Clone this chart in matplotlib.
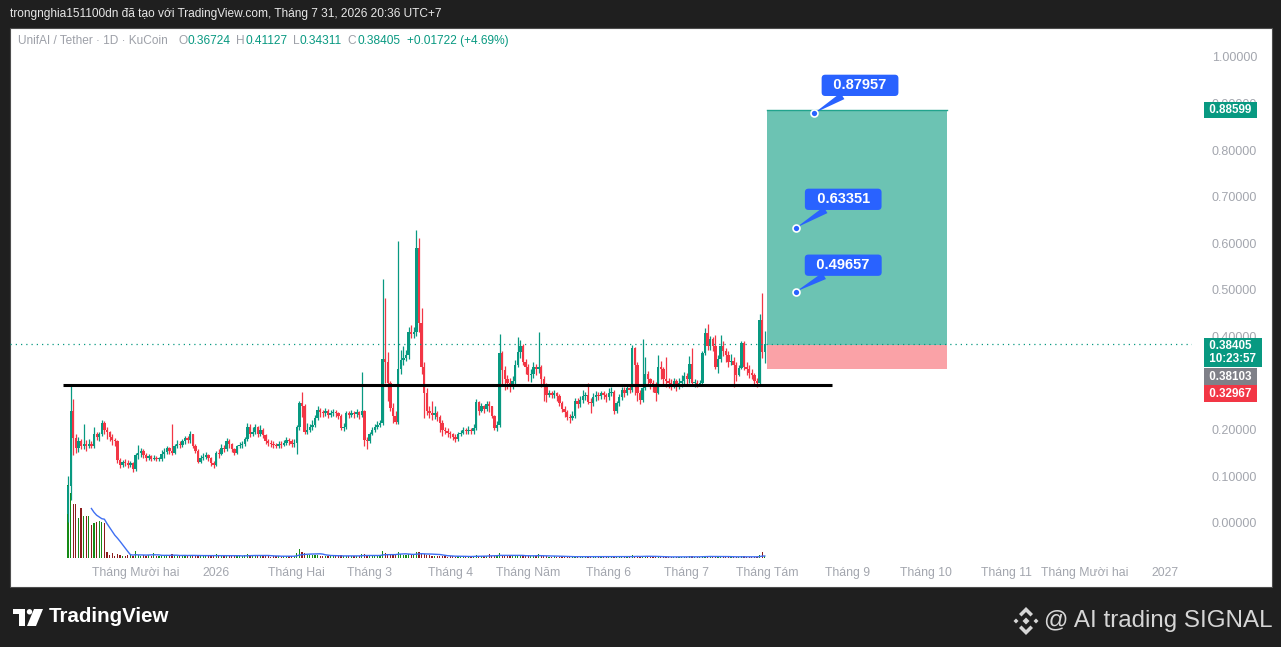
import numpy as np
import pandas as pd
import matplotlib
matplotlib.use('Agg')
import matplotlib.pyplot as plt
import matplotlib.dates as mdates
import matplotlib.transforms as mtransforms
from matplotlib.patches import Rectangle, Polygon, Circle

# UnifAI / Tether daily candles (KuCoin)
start_date = '2025-11-05'
first_open = 0.020
closes = [
    0.080, 0.240, 0.182, 0.160, 0.175, 0.165, 0.170, 0.165, 0.170, 0.165,
    0.190, 0.185, 0.190, 0.214, 0.200, 0.195, 0.185, 0.178, 0.175, 0.135,
    0.125, 0.130, 0.128, 0.125, 0.128, 0.115, 0.145, 0.150, 0.155, 0.145,
    0.140, 0.143, 0.138, 0.140, 0.137, 0.138, 0.148, 0.152, 0.160, 0.155,
    0.150, 0.165, 0.170, 0.168, 0.175, 0.182, 0.178, 0.190, 0.165, 0.155,
    0.130, 0.140, 0.142, 0.145, 0.140, 0.128, 0.125, 0.150, 0.148, 0.160,
    0.158, 0.175, 0.170, 0.158, 0.150, 0.165, 0.168, 0.170, 0.180, 0.206,
    0.190, 0.196, 0.205, 0.190, 0.200, 0.188, 0.175, 0.172, 0.170, 0.168,
    0.165, 0.170, 0.168, 0.172, 0.178, 0.175, 0.170, 0.172, 0.205, 0.257,
    0.250, 0.195, 0.200, 0.205, 0.210, 0.225, 0.242, 0.238, 0.235, 0.240,
    0.232, 0.236, 0.238, 0.235, 0.230, 0.204, 0.205, 0.235, 0.232, 0.236,
    0.233, 0.238, 0.232, 0.240, 0.178, 0.175, 0.190, 0.200, 0.205, 0.210,
    0.215, 0.352, 0.345, 0.300, 0.247, 0.230, 0.217, 0.330, 0.350, 0.355,
    0.360, 0.410, 0.405, 0.410, 0.590, 0.430, 0.335, 0.280, 0.240, 0.235,
    0.232, 0.235, 0.228, 0.215, 0.200, 0.198, 0.193, 0.190, 0.185, 0.180,
    0.190, 0.193, 0.200, 0.198, 0.200, 0.197, 0.203, 0.260, 0.240, 0.250,
    0.245, 0.255, 0.250, 0.230, 0.204, 0.210, 0.365, 0.328, 0.310, 0.300,
    0.295, 0.305, 0.340, 0.367, 0.380, 0.345, 0.335, 0.318, 0.320, 0.335,
    0.330, 0.335, 0.310, 0.295, 0.275, 0.280, 0.275, 0.278, 0.272, 0.257,
    0.245, 0.238, 0.228, 0.225, 0.230, 0.262, 0.255, 0.265, 0.272, 0.275,
    0.260, 0.258, 0.270, 0.275, 0.272, 0.278, 0.275, 0.270, 0.280, 0.282,
    0.240, 0.258, 0.270, 0.285, 0.278, 0.290, 0.285, 0.375, 0.340, 0.280,
    0.265, 0.290, 0.320, 0.310, 0.300, 0.295, 0.280, 0.335, 0.330, 0.310,
    0.305, 0.300, 0.297, 0.305, 0.295, 0.300, 0.305, 0.315, 0.310, 0.341,
    0.300, 0.300, 0.298, 0.300, 0.365, 0.408, 0.380, 0.395, 0.380, 0.335,
    0.352, 0.380, 0.370, 0.360, 0.345, 0.348, 0.340, 0.318, 0.333, 0.386,
    0.335, 0.330, 0.322, 0.318, 0.305, 0.300, 0.436, 0.36724, 0.38405,
]
highs = [
    0.100, 0.296, 0.266, 0.190, 0.185, 0.180, 0.212, 0.178, 0.180, 0.176,
    0.205, 0.196, 0.196, 0.222, 0.218, 0.205, 0.198, 0.190, 0.182, 0.178,
    0.140, 0.135, 0.138, 0.136, 0.132, 0.130, 0.150, 0.168, 0.160, 0.158,
    0.150, 0.148, 0.146, 0.145, 0.144, 0.142, 0.156, 0.160, 0.166, 0.164,
    0.212, 0.170, 0.178, 0.176, 0.180, 0.186, 0.186, 0.198, 0.192, 0.170,
    0.158, 0.145, 0.150, 0.152, 0.148, 0.142, 0.132, 0.155, 0.158, 0.170,
    0.168, 0.182, 0.180, 0.172, 0.160, 0.168, 0.174, 0.176, 0.184, 0.214,
    0.212, 0.206, 0.212, 0.208, 0.210, 0.204, 0.190, 0.180, 0.178, 0.176,
    0.172, 0.176, 0.176, 0.178, 0.185, 0.182, 0.180, 0.180, 0.210, 0.262,
    0.281, 0.255, 0.215, 0.212, 0.220, 0.232, 0.250, 0.246, 0.242, 0.246,
    0.244, 0.242, 0.244, 0.242, 0.238, 0.234, 0.214, 0.240, 0.240, 0.242,
    0.240, 0.244, 0.240, 0.324, 0.242, 0.185, 0.195, 0.206, 0.212, 0.218,
    0.222, 0.524, 0.483, 0.368, 0.305, 0.258, 0.240, 0.605, 0.372, 0.380,
    0.372, 0.420, 0.425, 0.420, 0.629, 0.611, 0.461, 0.345, 0.290, 0.250,
    0.262, 0.250, 0.240, 0.232, 0.220, 0.206, 0.204, 0.198, 0.194, 0.190,
    0.196, 0.200, 0.206, 0.204, 0.208, 0.204, 0.212, 0.266, 0.262, 0.258,
    0.254, 0.262, 0.262, 0.252, 0.232, 0.218, 0.405, 0.370, 0.336, 0.318,
    0.312, 0.316, 0.350, 0.400, 0.392, 0.384, 0.352, 0.342, 0.330, 0.345,
    0.342, 0.410, 0.338, 0.315, 0.300, 0.286, 0.284, 0.285, 0.282, 0.276,
    0.262, 0.250, 0.242, 0.234, 0.240, 0.268, 0.268, 0.272, 0.285, 0.282,
    0.300, 0.268, 0.278, 0.284, 0.282, 0.284, 0.284, 0.280, 0.290, 0.292,
    0.286, 0.262, 0.276, 0.292, 0.292, 0.298, 0.296, 0.382, 0.378, 0.345,
    0.285, 0.395, 0.356, 0.326, 0.312, 0.306, 0.302, 0.360, 0.348, 0.334,
    0.356, 0.312, 0.308, 0.312, 0.310, 0.312, 0.318, 0.324, 0.322, 0.358,
    0.375, 0.310, 0.306, 0.306, 0.370, 0.418, 0.427, 0.402, 0.400, 0.403,
    0.360, 0.403, 0.390, 0.376, 0.370, 0.362, 0.356, 0.345, 0.340, 0.390,
    0.390, 0.345, 0.338, 0.330, 0.322, 0.312, 0.449, 0.494, 0.41127,
]
lows = [
    0.003, 0.050, 0.145, 0.150, 0.152, 0.158, 0.158, 0.155, 0.160, 0.160,
    0.160, 0.178, 0.175, 0.186, 0.192, 0.180, 0.175, 0.168, 0.165, 0.128,
    0.118, 0.120, 0.122, 0.118, 0.120, 0.110, 0.112, 0.138, 0.142, 0.140,
    0.134, 0.136, 0.132, 0.135, 0.132, 0.133, 0.134, 0.140, 0.148, 0.148,
    0.145, 0.148, 0.160, 0.160, 0.164, 0.170, 0.172, 0.172, 0.160, 0.150,
    0.128, 0.128, 0.136, 0.138, 0.134, 0.122, 0.118, 0.122, 0.140, 0.145,
    0.152, 0.155, 0.162, 0.152, 0.145, 0.148, 0.160, 0.162, 0.166, 0.176,
    0.185, 0.186, 0.192, 0.185, 0.186, 0.182, 0.170, 0.166, 0.164, 0.162,
    0.160, 0.162, 0.162, 0.165, 0.168, 0.168, 0.164, 0.164, 0.148, 0.200,
    0.228, 0.190, 0.190, 0.196, 0.200, 0.205, 0.220, 0.228, 0.228, 0.230,
    0.226, 0.228, 0.230, 0.228, 0.224, 0.200, 0.198, 0.202, 0.226, 0.228,
    0.225, 0.228, 0.224, 0.228, 0.165, 0.158, 0.172, 0.188, 0.196, 0.202,
    0.205, 0.210, 0.300, 0.262, 0.240, 0.215, 0.212, 0.212, 0.320, 0.340,
    0.348, 0.352, 0.398, 0.398, 0.402, 0.410, 0.320, 0.225, 0.232, 0.226,
    0.222, 0.224, 0.218, 0.196, 0.186, 0.190, 0.185, 0.182, 0.178, 0.174,
    0.176, 0.186, 0.190, 0.192, 0.192, 0.190, 0.192, 0.200, 0.232, 0.238,
    0.236, 0.240, 0.238, 0.226, 0.200, 0.198, 0.206, 0.298, 0.285, 0.288,
    0.282, 0.288, 0.298, 0.335, 0.355, 0.338, 0.320, 0.305, 0.302, 0.312,
    0.318, 0.322, 0.292, 0.262, 0.260, 0.270, 0.268, 0.268, 0.262, 0.250,
    0.238, 0.228, 0.220, 0.215, 0.220, 0.226, 0.246, 0.248, 0.258, 0.264,
    0.255, 0.236, 0.252, 0.262, 0.264, 0.266, 0.266, 0.260, 0.264, 0.272,
    0.234, 0.235, 0.250, 0.264, 0.270, 0.274, 0.278, 0.282, 0.275, 0.262,
    0.255, 0.260, 0.285, 0.296, 0.288, 0.282, 0.262, 0.276, 0.308, 0.295,
    0.292, 0.290, 0.286, 0.290, 0.284, 0.288, 0.292, 0.298, 0.296, 0.300,
    0.295, 0.292, 0.292, 0.294, 0.296, 0.360, 0.372, 0.372, 0.370, 0.330,
    0.322, 0.345, 0.358, 0.345, 0.335, 0.338, 0.292, 0.305, 0.315, 0.330,
    0.328, 0.318, 0.312, 0.308, 0.296, 0.292, 0.296, 0.355, 0.34311,
]
volumes = [
    7.3, 6.5, 5.4, 5.4, 4.0, 5.0, 4.2, 4.2, 4.2, 3.3, 3.5, 3.6, 3.7, 3.6, 3.5,
    0.6, 0.3, 0.5, 0.2, 0.4, 0.3, 0.2, 0.2, 0.3, 0.3, 0.2, 0.7, 0.3, 0.2, 0.3,
    0.2, 0.3, 0.2, 0.5, 0.2, 0.2, 0.3, 0.2, 0.3, 0.2,
    0.4, 0.3, 0.2, 0.2, 0.3, 0.2, 0.2, 0.3, 0.3, 0.2,
    0.3, 0.2, 0.2, 0.2, 0.2, 0.3, 0.2, 0.4, 0.2, 0.2,
    0.2, 0.3, 0.2, 0.2, 0.2, 0.2, 0.2, 0.2, 0.3, 0.4,
    0.3, 0.2, 0.3, 0.2, 0.2, 0.2, 0.2, 0.2, 0.1, 0.2,
    0.2, 0.2, 0.1, 0.2, 0.2, 0.2, 0.2, 0.2, 0.5, 0.9,
    0.6, 0.5, 0.3, 0.3, 0.3, 0.3, 0.3, 0.2, 0.2, 0.2,
    0.2, 0.2, 0.2, 0.2, 0.2, 0.3, 0.2, 0.2, 0.2, 0.2,
    0.2, 0.2, 0.2, 0.4, 0.4, 0.3, 0.2, 0.2, 0.2, 0.2,
    0.2, 0.7, 0.5, 0.4, 0.4, 0.3, 0.3, 0.6, 0.4, 0.3,
    0.3, 0.4, 0.3, 0.3, 0.6, 0.6, 0.5, 0.4, 0.3, 0.3,
    0.2, 0.2, 0.2, 0.2, 0.2, 0.2, 0.1, 0.2, 0.2, 0.1,
    0.2, 0.1, 0.2, 0.1, 0.2, 0.1, 0.2, 0.3, 0.2, 0.2,
    0.2, 0.2, 0.4, 0.2, 0.2, 0.2, 0.5, 0.3, 0.2, 0.2,
    0.2, 0.2, 0.3, 0.3, 0.2, 0.2, 0.2, 0.2, 0.2, 0.2,
    0.2, 0.4, 0.2, 0.2, 0.2, 0.1, 0.1, 0.2, 0.1, 0.1,
    0.2, 0.1, 0.1, 0.1, 0.1, 0.2, 0.1, 0.1, 0.2, 0.1,
    0.2, 0.1, 0.1, 0.1, 0.1, 0.1, 0.1, 0.2, 0.1, 0.1,
    0.2, 0.1, 0.1, 0.1, 0.1, 0.2, 0.1, 0.3, 0.2, 0.2,
    0.1, 0.2, 0.2, 0.1, 0.1, 0.1, 0.1, 0.2, 0.1, 0.1,
    0.1, 0.1, 0.1, 0.1, 0.1, 0.1, 0.1, 0.1, 0.1, 0.2,
    0.2, 0.1, 0.1, 0.1, 0.2, 0.2, 0.2, 0.1, 0.1, 0.2,
    0.1, 0.2, 0.1, 0.1, 0.1, 0.1, 0.1, 0.1, 0.1, 0.2,
    0.2, 0.1, 0.1, 0.1, 0.1, 0.1, 0.3, 0.6, 0.2,
]

month_ticks = ['2025-12-01', '2026-01-01', '2026-02-01', '2026-03-01', '2026-04-01',
               '2026-05-01', '2026-06-01', '2026-07-01', '2026-08-01', '2026-09-01',
               '2026-10-01', '2026-11-01', '2026-12-01', '2027-01-01']
month_labels = ['Tháng Mười hai', '2026', 'Tháng Hai', 'Tháng 3', 'Tháng 4',
                'Tháng Năm', 'Tháng 6', 'Tháng 7', 'Tháng Tám', 'Tháng 9',
                'Tháng 10', 'Tháng 11', 'Tháng Mười hai', '2027']
price_ticks = [0.0, 0.1, 0.2, 0.3, 0.4, 0.5, 0.6, 0.7, 0.8, 0.9, 1.0]

resistance = 0.296
resistance_span = ['2025-11-03', '2026-08-26']
tool_span = ['2026-08-01', '2026-10-09']
take_profit = 0.88599
entry_price = 0.38103
stop_loss = 0.32967
last_close = 0.38405
countdown = '10:23:57'
targets = [0.87957, 0.63351, 0.49657]
target_dates = ['2026-08-19', '2026-08-12', '2026-08-12']

header_top = 'trongnghia151100dn đã tạo với TradingView.com, Tháng 7 31, 2026 20:36 UTC+7'
symbol_name = 'UnifAI / Tether · 1D · KuCoin'
ohlc_letters = ['O', 'H', 'L', 'C']
ohlc_values = ['0.36724', '0.41127', '0.34311', '0.38405']
change_text = '+0.01722 (+4.69%)'

UP = '#089981'
DOWN = '#f23645'
W, H = 1281, 647


def main() -> None:
    plt.rcParams['font.family'] = ['Liberation Sans', 'DejaVu Sans']

    fig = plt.figure(figsize=(W / 100, H / 100), dpi=100, facecolor='#1f1f1f')

    # background / decoration layer in pixel coordinates
    bg = fig.add_axes([0, 0, 1, 1])
    bg.set_xlim(0, W)
    bg.set_ylim(H, 0)
    bg.axis('off')
    bg.set_zorder(0)
    bg.add_patch(Rectangle((10, 28), 1262, 559, fc='white', ec='#4d4d4d', lw=0.8))

    bg.text(10, 14, header_top, color='#e8e8e8', fontsize=8.6, va='center', ha='left')
    grey = '#9da0a8'
    bg.text(18, 41, symbol_name, color=grey, fontsize=8.6, va='center', ha='left')
    value_x = [188, 245, 300, 357]
    for letter, val, vx in zip(ohlc_letters, ohlc_values, value_x):
        bg.text(vx - 0.5, 41, letter, color=grey, fontsize=8.6, va='center', ha='right')
        bg.text(vx, 41, val, color=UP, fontsize=8.6, va='center', ha='left')
    bg.text(407, 41, change_text, color=UP, fontsize=8.6, va='center', ha='left')

    # TradingView logo + wordmark
    bg.add_patch(Polygon([(13, 609), (25, 609), (25, 626), (19, 626), (19, 614), (13, 614)],
                         closed=True, fc='white', ec='none'))
    bg.add_patch(Circle((29.5, 611.8), 2.7, fc='white', ec='none'))
    bg.add_patch(Polygon([(34, 609), (43, 609), (36, 626), (27, 626)], closed=True, fc='white', ec='none'))
    bg.text(49, 617, 'TradingView', color='white', fontsize=14.8, fontweight='bold', va='center', ha='left')

    # signature with diamond logo
    logo = '#d6d6d6'
    bg.add_patch(Polygon([(1026, 617.5), (1029.5, 621), (1026, 624.5), (1022.5, 621)], fc=logo, ec='none'))
    bg.add_patch(Polygon([(1016, 618.5), (1018.5, 621), (1016, 623.5), (1013.5, 621)], fc=logo, ec='none'))
    bg.add_patch(Polygon([(1036, 618.5), (1038.5, 621), (1036, 623.5), (1033.5, 621)], fc=logo, ec='none'))
    bg.add_patch(Polygon([(1019, 614), (1026, 607), (1033, 614), (1030.5, 616.5), (1026, 612), (1021.5, 616.5)],
                         fc=logo, ec='none'))
    bg.add_patch(Polygon([(1019, 628), (1026, 635), (1033, 628), (1030.5, 625.5), (1026, 630), (1021.5, 625.5)],
                         fc=logo, ec='none'))
    bg.text(1044, 621, '@ AI trading SIGNAL', color=logo, fontsize=17.4, va='center', ha='left')

    # main price pane
    ax = fig.add_axes([10 / W, 1 - 558 / H, 1182 / W, 530 / H])
    ax2 = ax.twinx()
    ax.set_zorder(3)
    ax2.set_zorder(2)
    ax.patch.set_visible(False)
    ax2.patch.set_visible(False)

    dates = pd.date_range(start_date, periods=len(closes), freq='D')
    x = mdates.date2num(dates)
    c = np.array(closes)
    o = np.array([first_open] + closes[:-1])
    hi = np.array(highs)
    lo = np.array(lows)
    colors = np.where(c >= o, UP, DOWN)

    ax.vlines(x, lo, hi, colors=colors, lw=0.9, zorder=3)
    body_lo = np.minimum(o, c)
    body_h = np.maximum(np.abs(c - o), 0.0015)
    ax.bar(x, body_h, width=0.85, bottom=body_lo, color=colors, linewidth=0, zorder=3)

    # volume with its moving average
    vol_colors = np.where(c >= o, '#158a15', '#8c1d1d')
    ax2.bar(x, volumes, width=0.45, color=vol_colors, linewidth=0)
    vol_ma = pd.Series(volumes).rolling(10).mean()
    ax2.plot(x, vol_ma, color='#3f6ff2', lw=1)
    ax2.set_ylim(0, 53)
    ax2.set_yticks([])
    ax2.tick_params(left=False, right=False, labelleft=False, labelright=False)

    # horizontal resistance
    rs = mdates.date2num(pd.to_datetime(resistance_span))
    ax.plot(rs, [resistance, resistance], color='black', lw=2.2, zorder=4, solid_capstyle='butt')

    # long position tool
    t0, t1 = mdates.date2num(pd.to_datetime(tool_span))
    ax.add_patch(Rectangle((t0, entry_price), t1 - t0, take_profit - entry_price,
                           fc='#6cc3b3', ec='none', zorder=2))
    ax.add_patch(Rectangle((t0, stop_loss), t1 - t0, entry_price - stop_loss,
                           fc='#faa2a7', ec='none', zorder=2))
    ax.plot([t0, t1], [take_profit, take_profit], color='#22a38d', lw=1, zorder=2.5)

    ax.axhline(last_close, color=UP, lw=0.9, ls=(0, (1, 3.2)), zorder=4)

    # target callouts
    offsets = [(33, 20), (34, 20.5), (34, 19)]
    for price, day, (dx, dy) in zip(targets, target_dates, offsets):
        xd = mdates.date2num(pd.Timestamp(day))
        ax.annotate(f'  {price:.5f}  ', xy=(xd, price), xytext=(dx, dy), textcoords='offset points',
                    ha='center', va='center', fontsize=10.5, fontweight='bold', color='white', zorder=6,
                    bbox=dict(boxstyle='round,pad=0.25,rounding_size=0.25', fc='#2962ff', ec='none'),
                    arrowprops=dict(arrowstyle='wedge,tail_width=0.5,shrink_factor=0.5',
                                    fc='#2962ff', ec='none', shrinkA=0, shrinkB=0))
        ax.plot(xd, price, 'o', ms=5, mfc='#2962ff', mec='white', mew=1.2, zorder=7)

    # axes cosmetics
    ax.set_xlim(mdates.date2num(pd.Timestamp(start_date)) - 22.31,
                mdates.date2num(pd.Timestamp(start_date)) + 432.31)
    ax.set_ylim(-0.07511, 1.06223)
    ax.set_xticks(mdates.date2num(pd.to_datetime(month_ticks)))
    ax.set_xticklabels(month_labels)
    ax.yaxis.tick_right()
    ax.set_yticks(price_ticks)
    ax.set_yticklabels([f'{p:.5f}' for p in price_ticks])
    ax.tick_params(axis='x', length=0, pad=6.5, labelsize=8.8, labelcolor='#a3a6ae')
    ax.tick_params(axis='y', length=0, pad=14.4, labelsize=9, labelcolor='#a3a6ae',
                   left=False, labelleft=False)
    for a in (ax, ax2):
        for s in a.spines.values():
            s.set_visible(False)

    # price scale tags
    trans = mtransforms.blended_transform_factory(ax.transAxes, ax.transData)
    tag_x = (1206 - 10) / 1182

    def price_tag(text, price, color, dy=0.0):
        ax.annotate(text, xy=(tag_x, price), xycoords=trans, xytext=(0, dy), textcoords='offset points',
                    ha='left', va='center', fontsize=8.4, fontweight='bold', color='white',
                    annotation_clip=False, zorder=10, linespacing=1.05,
                    bbox=dict(boxstyle='square,pad=0.2', fc=color, ec='none'))

    price_tag(f' {take_profit:.5f} ', take_profit, UP)
    price_tag(f' {last_close:.5f} \n {countdown} ', last_close, UP, dy=-6.1)
    price_tag(f' {entry_price:.5f} ', entry_price, '#7f8088', dy=-22.4)
    price_tag(f' {stop_loss:.5f} ', stop_loss, DOWN, dy=-17.4)

    fig.savefig('out.png', dpi=100, facecolor=fig.get_facecolor())


if __name__ == '__main__':
    main()
